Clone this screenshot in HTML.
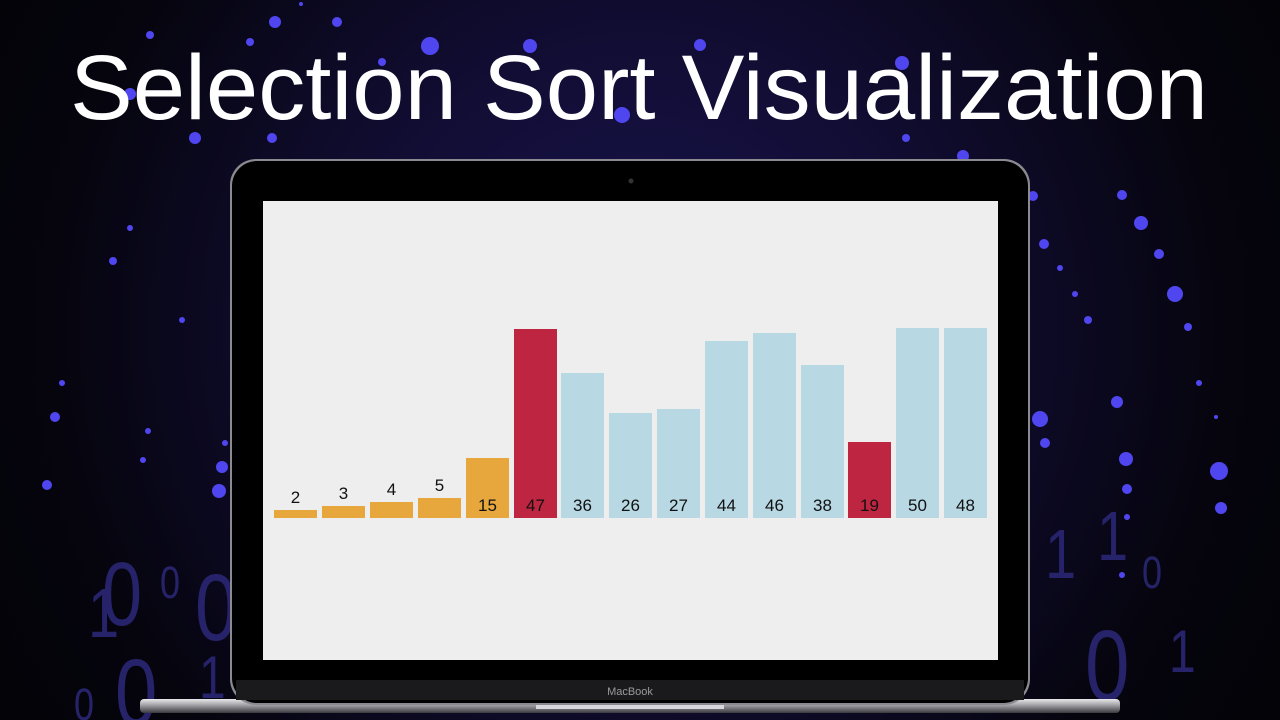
<!DOCTYPE html>
<html><head><meta charset="utf-8"><style>
html,body{margin:0;padding:0;background:#07060f;}
svg{display:block;}
</style></head><body>
<svg width="1280" height="720" viewBox="0 0 1280 720" xmlns="http://www.w3.org/2000/svg">
<defs>
<radialGradient id="bg" cx="640" cy="330" r="720" gradientUnits="userSpaceOnUse">
<stop offset="0" stop-color="#1a1550"/><stop offset="0.45" stop-color="#100c30"/><stop offset="0.8" stop-color="#06050f"/><stop offset="1" stop-color="#030308"/>
</radialGradient>
<linearGradient id="base" x1="0" y1="0" x2="0" y2="1">
<stop offset="0" stop-color="#e8e8ea"/><stop offset="0.4" stop-color="#a9a9ad"/><stop offset="1" stop-color="#3a3a3e"/>
</linearGradient>
</defs>
<rect width="1280" height="720" fill="url(#bg)"/>
<g fill="#26236a" font-family="Liberation Sans, sans-serif">
<text transform="translate(88,637) scale(0.8,1)" font-size="70">1</text>
<text transform="translate(102,625) scale(0.8,1)" font-size="90">0</text>
<text transform="translate(160,598) scale(0.8,1)" font-size="45">0</text>
<text transform="translate(195,640) scale(0.8,1)" font-size="95">0</text>
<text transform="translate(74,720) scale(0.8,1)" font-size="45">0</text>
<text transform="translate(115,725) scale(0.8,1)" font-size="95">0</text>
<text transform="translate(199,698) scale(0.8,1)" font-size="60">1</text>
<text transform="translate(1045,578) scale(0.8,1)" font-size="70">1</text>
<text transform="translate(1097,560) scale(0.8,1)" font-size="70">1</text>
<text transform="translate(1142,588) scale(0.8,1)" font-size="45">0</text>
<text transform="translate(1085,700) scale(0.8,1)" font-size="100">0</text>
<text transform="translate(1169,672) scale(0.8,1)" font-size="60">1</text>
</g>
<g fill="#5046f0">
<circle cx="275" cy="22" r="6"/><circle cx="250" cy="42" r="4"/><circle cx="195" cy="138" r="6"/><circle cx="272" cy="138" r="5"/><circle cx="301" cy="4" r="2"/>
<circle cx="337" cy="22" r="5"/><circle cx="430" cy="46" r="9"/><circle cx="382" cy="62" r="4"/><circle cx="530" cy="46" r="7"/><circle cx="622" cy="115" r="8"/>
<circle cx="700" cy="45" r="6"/><circle cx="902" cy="63" r="7"/><circle cx="906" cy="138" r="4"/><circle cx="963" cy="156" r="6"/><circle cx="1033" cy="196" r="5"/>
<circle cx="150" cy="35" r="4"/><circle cx="130" cy="94" r="6"/><circle cx="113" cy="261" r="4"/><circle cx="182" cy="320" r="3"/><circle cx="62" cy="383" r="3"/>
<circle cx="55" cy="417" r="5"/><circle cx="47" cy="485" r="5"/><circle cx="148" cy="431" r="3"/><circle cx="143" cy="460" r="3"/><circle cx="222" cy="467" r="6"/>
<circle cx="219" cy="491" r="7"/><circle cx="225" cy="443" r="3"/><circle cx="130" cy="228" r="3"/>
<circle cx="1122" cy="195" r="5"/><circle cx="1141" cy="223" r="7"/><circle cx="1044" cy="244" r="5"/><circle cx="1159" cy="254" r="5"/><circle cx="1175" cy="294" r="8"/>
<circle cx="1060" cy="268" r="3"/><circle cx="1075" cy="294" r="3"/><circle cx="1088" cy="320" r="4"/><circle cx="1188" cy="327" r="4"/><circle cx="1199" cy="383" r="3"/>
<circle cx="1117" cy="402" r="6"/><circle cx="1040" cy="419" r="8"/><circle cx="1045" cy="443" r="5"/><circle cx="1216" cy="417" r="2"/><circle cx="1126" cy="459" r="7"/>
<circle cx="1219" cy="471" r="9"/><circle cx="1127" cy="489" r="5"/><circle cx="1221" cy="508" r="6"/><circle cx="1127" cy="517" r="3"/><circle cx="1122" cy="575" r="3"/>
</g>
<text x="70" y="119" font-family="Liberation Sans, sans-serif" font-size="92" fill="#ffffff" textLength="1138" lengthAdjust="spacingAndGlyphs">Selection Sort Visualization</text>
<!-- laptop -->
<rect x="140" y="699" width="980" height="14" rx="4" fill="url(#base)"/>
<rect x="536" y="699" width="188" height="10" fill="#d8d8dc"/>
<rect x="230" y="159" width="800" height="546" rx="26" fill="#8a8a90"/>
<rect x="232" y="161" width="796" height="542" rx="25" fill="#000"/>
<rect x="236" y="680" width="788" height="20" fill="#1a1a1c"/>
<text x="630" y="695" text-anchor="middle" font-family="Liberation Sans, sans-serif" font-size="11" fill="#9a9a9e">MacBook</text>
<circle cx="631" cy="181" r="2.5" fill="#333"/>
<rect x="263" y="201" width="735" height="459" fill="#eeeeee"/>
<g>
<rect x="274" y="510" width="43" height="8" fill="#e8a73c"/>
<rect x="322" y="506" width="43" height="12" fill="#e8a73c"/>
<rect x="370" y="502" width="43" height="16" fill="#e8a73c"/>
<rect x="418" y="498" width="43" height="20" fill="#e8a73c"/>
<rect x="466" y="458" width="43" height="60" fill="#e8a73c"/>
<rect x="514" y="329" width="43" height="189" fill="#bd2540"/>
<rect x="561" y="373" width="43" height="145" fill="#b8d8e4"/>
<rect x="609" y="413" width="43" height="105" fill="#b8d8e4"/>
<rect x="657" y="409" width="43" height="109" fill="#b8d8e4"/>
<rect x="705" y="341" width="43" height="177" fill="#b8d8e4"/>
<rect x="753" y="333" width="43" height="185" fill="#b8d8e4"/>
<rect x="801" y="365" width="43" height="153" fill="#b8d8e4"/>
<rect x="848" y="442" width="43" height="76" fill="#bd2540"/>
<rect x="896" y="328" width="43" height="190" fill="#b8d8e4"/>
<rect x="944" y="328" width="43" height="190" fill="#b8d8e4"/>
</g>
<g font-family="Liberation Sans, sans-serif" font-size="17" fill="#111" text-anchor="middle">
<text x="295.5" y="503">2</text><text x="343.5" y="499">3</text><text x="391.5" y="495">4</text><text x="439.5" y="491">5</text>
<text x="487.5" y="511">15</text><text x="535.5" y="511">47</text><text x="582.5" y="511">36</text><text x="630.5" y="511">26</text>
<text x="678.5" y="511">27</text><text x="726.5" y="511">44</text><text x="774.5" y="511">46</text><text x="822.5" y="511">38</text>
<text x="869.5" y="511">19</text><text x="917.5" y="511">50</text><text x="965.5" y="511">48</text>
</g>
</svg>
</body></html>
